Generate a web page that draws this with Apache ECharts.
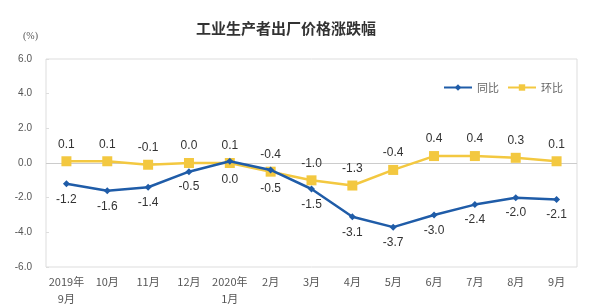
<!DOCTYPE html>
<html>
<head>
<meta charset="utf-8">
<script src="https://cdn.jsdelivr.net/npm/echarts@6/dist/echarts.min.js"></script>
<style>
  html, body { margin: 0; padding: 0; background: #fff; }
  #chart { width: 602px; height: 308px; }
</style>
</head>
<body>
<div id="chart"></div>
<script>
// 月份
const categories = ['2019年\n9月', '10月', '11月', '12月', '2020年\n1月', '2月', '3月', '4月', '5月', '6月', '7月', '8月', '9月'];
// 同比
const yoyData = [-1.2, -1.6, -1.4, -0.5, 0.1, -0.4, -1.5, -3.1, -3.7, -3.0, -2.4, -2.0, -2.1];
// 环比
const momData = [0.1, 0.1, -0.1, 0.0, 0.0, -0.5, -1.0, -1.3, -0.4, 0.4, 0.4, 0.3, 0.1];
// 标签位置 (上/下)
const yoyLabelPos = ['bottom', 'bottom', 'bottom', 'bottom', 'top', 'top', 'bottom', 'bottom', 'bottom', 'bottom', 'bottom', 'bottom', 'bottom'];
const momLabelPos = ['top', 'top', 'top', 'top', 'bottom', 'bottom', 'top', 'top', 'top', 'top', 'top', 'top', 'top'];

const blue = '#1f5ca8';
const yellow = '#f3c840';

const labelStyle = {
    show: true,
    fontSize: 12,
    color: '#333',
    fontFamily: 'Arial, "Liberation Sans", sans-serif',
    formatter: (p) => Number(p.value).toFixed(1)
};

const myChart = echarts.init(document.getElementById('chart'));
const option = {
    animation: false,
    title: [{
        text: '工业生产者出厂价格涨跌幅',
        left: 191,
        top: 16,
        textStyle: { fontSize: 15, fontWeight: 'bold', color: '#333', fontFamily: '"Noto Sans CJK SC", sans-serif' }
    }, {
        text: '(%)',
        left: 18,
        top: 26,
        textStyle: { fontSize: 10, fontWeight: 'normal', color: '#555', fontFamily: '"Liberation Serif", serif' }
    }],
    legend: {
        right: 34,
        top: 77,
        itemWidth: 28,
        itemHeight: 8,
        itemGap: 8,
        textStyle: { fontSize: 11, color: '#666', fontFamily: '"Noto Sans CJK SC", sans-serif' },
        data: ['同比', '环比']
    },
    grid: {
        left: 46,
        right: 25,
        top: 59,
        bottom: 41,
        show: true,
        borderColor: '#ddd',
        borderWidth: 1
    },
    xAxis: {
        type: 'category',
        data: categories,
        boundaryGap: true,
        axisLine: { onZero: false, show: false },
        axisTick: { show: false },
        axisLabel: {
            interval: 0,
            margin: 6,
            fontSize: 11,
            lineHeight: 17,
            color: '#555',
            fontFamily: '"Noto Sans CJK SC", serif'
        }
    },
    yAxis: {
        type: 'value',
        min: -6,
        max: 6,
        interval: 2,
        splitLine: { show: false },
        axisLine: { show: false },
        axisTick: { show: true, inside: true, length: 3, lineStyle: { color: '#ddd' } },
        axisLabel: {
            margin: 14,
            fontSize: 10,
            color: '#555',
            fontFamily: '"Liberation Sans", Arial, sans-serif',
            formatter: (v) => v.toFixed(1)
        }
    },
    series: [{
        name: '同比',
        type: 'line',
        data: yoyData.map((v, i) => ({ value: v, label: { position: yoyLabelPos[i] } })),
        symbol: 'diamond',
        symbolSize: 7,
        lineStyle: { color: blue, width: 2.5 },
        itemStyle: { color: blue },
        label: Object.assign({ distance: 6 }, labelStyle),
        z: 3,
        markLine: {
            silent: true,
            symbol: 'none',
            label: { show: false },
            lineStyle: { color: '#ccc', type: 'solid', width: 1 },
            data: [{ yAxis: 0 }],
            z: 1
        }
    }, {
        name: '环比',
        type: 'line',
        data: momData.map((v, i) => ({ value: v, label: { position: momLabelPos[i] } })),
        symbol: 'rect',
        symbolSize: 10,
        lineStyle: { color: yellow, width: 2.5 },
        itemStyle: { color: yellow },
        label: Object.assign({ distance: 6 }, labelStyle),
        z: 2
    }]
};
myChart.setOption(option);
window.addEventListener('resize', () => {
    myChart.resize();
});
</script>
</body>
</html>
